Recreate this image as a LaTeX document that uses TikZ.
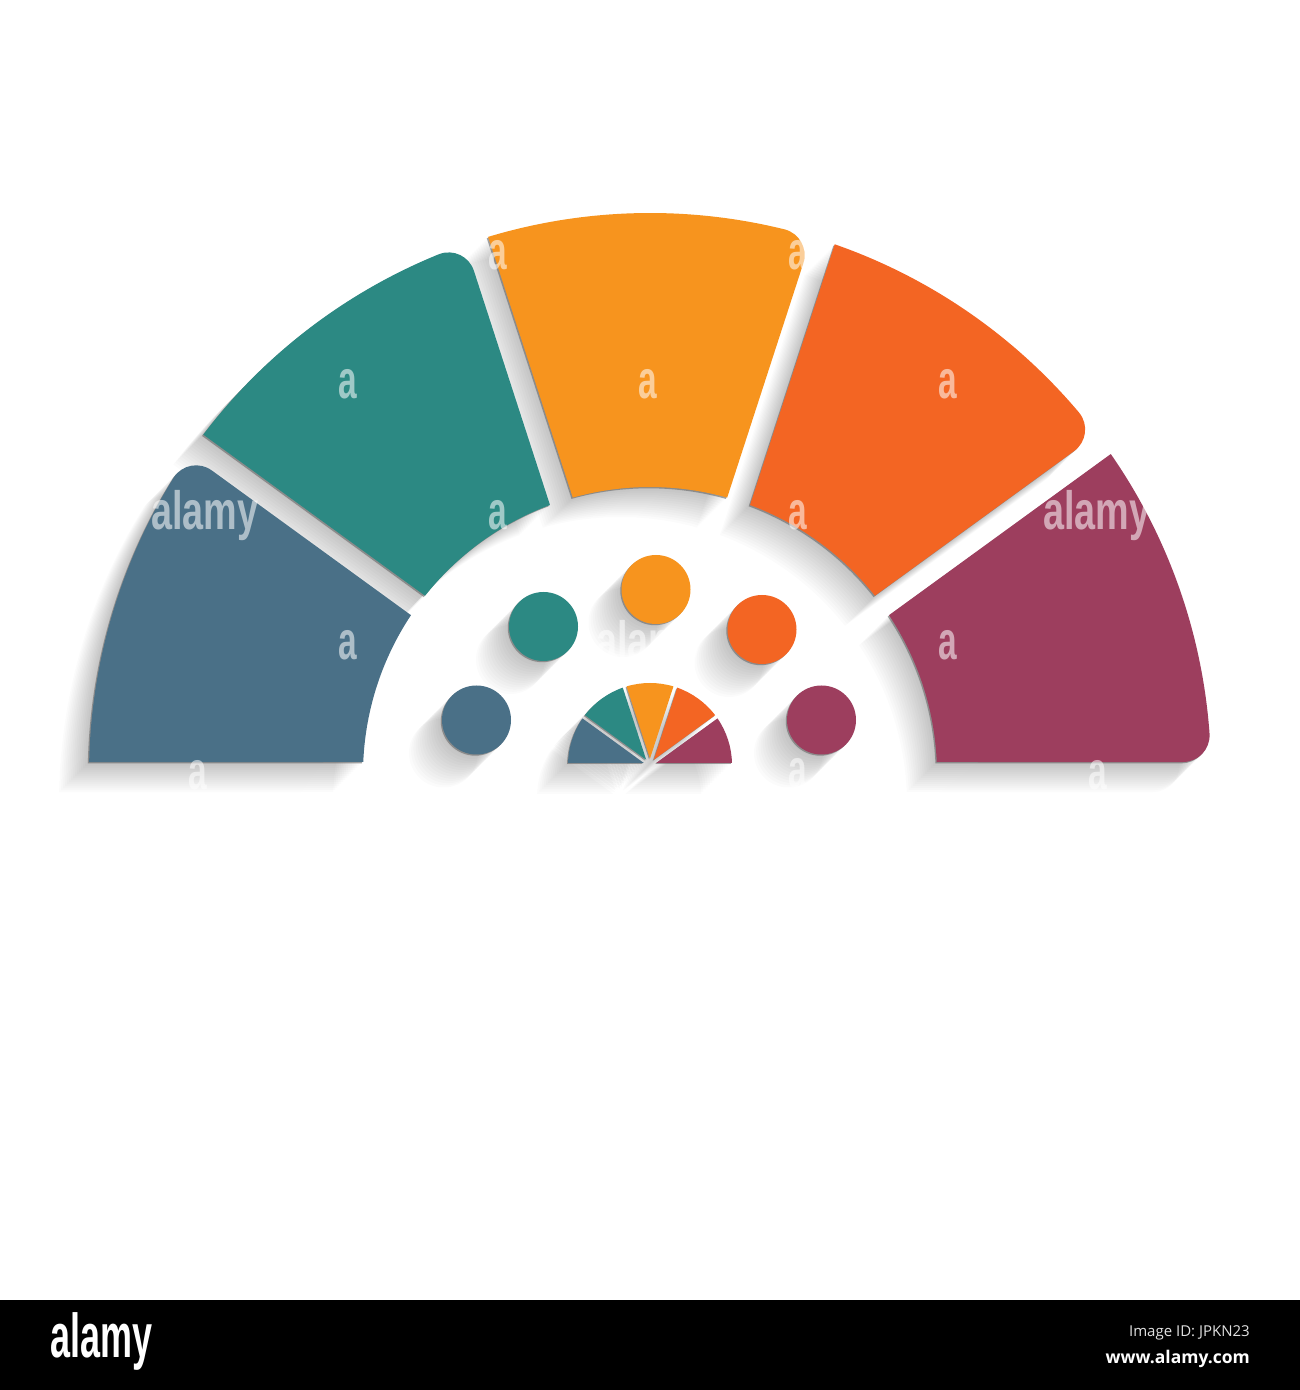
\documentclass[tikz,border=0pt]{standalone}
\usepackage{fontspec}
\setmainfont{Liberation Sans}
\newfontfamily\idfont{Open Sans}
\usetikzlibrary{calc}
\definecolor{cblue}{HTML}{4A7087}
\definecolor{cteal}{HTML}{2C8983}
\definecolor{corange}{HTML}{F7941E}
\definecolor{cdorange}{HTML}{F36523}
\definecolor{cpurple}{HTML}{9D3E5E}
\newcommand\Ro{561}
\newcommand\Ri{287}
\newcommand\hg{12}
\newcommand\rc{28}
\newcommand\fR{82}
\newcommand\fd{2}
% big ring segment: #1 low angle, #2 high angle, #3 path options
\newcommand\ringseg[3]{%
  \pgfmathsetmacro\sAo{#1+asin(\hg/\Ro)}%
  \pgfmathsetmacro\sBo{#2-asin(\hg/\Ro)}%
  \pgfmathsetmacro\sAi{#1+asin(\hg/\Ri)}%
  \pgfmathsetmacro\sBi{#2-asin(\hg/\Ri)}%
  \pgfmathsetmacro\sAr{\sAo+\rc/\Ro*180/pi}%
  \path[#3] (\sBi:\Ri) -- (\sBo:\Ro)
    arc[start angle=\sBo, end angle=\sAr, radius=\Ro pt]
    .. controls ($(\sAr:\Ro)!0.55!(\sAo:\Ro)$) and ($($(\sAo:\Ro)!\rc pt!(\sAi:\Ri)$)!0.55!(\sAo:\Ro)$)
    .. ($(\sAo:\Ro)!\rc pt!(\sAi:\Ri)$)
    -- (\sAi:\Ri) arc[start angle=\sAi, end angle=\sBi, radius=\Ri pt] -- cycle;}
% small fan segment
\newcommand\fanseg[3]{%
  \pgfmathsetmacro\fAo{#1+asin(\fd/\fR)}%
  \pgfmathsetmacro\fBo{#2-asin(\fd/\fR)}%
  \pgfmathsetmacro\fM{(#1+#2)/2}%
  \pgfmathsetmacro\fAp{\fd/sin((#2-#1)/2)}%
  \path[#3] (\fM:\fAp) -- (\fAo:\fR) arc[start angle=\fAo, end angle=\fBo, radius=\fR pt] -- cycle;}
\tikzset{
  shadowcopy/.style={fill=black, fill opacity=0.015},
  rimcopy/.style={fill=black!60, fill opacity=0.6},
  wm/.style={text=white, text opacity=0.55, anchor=base, inner sep=0pt,
    font=\bfseries\fontsize{54}{54}\selectfont},
  dot/.style={circle, inner sep=0pt, minimum size=69pt}
}
\begin{document}
\begin{tikzpicture}[x=1pt,y=1pt]
\useasboundingbox (0,0) rectangle (1300,1390);
\fill[white] (0,0) rectangle (1300,1390);
% ---------- big half ring ----------
\begin{scope}[shift={(650,616)}]
  \foreach \a/\c in {144/cblue,108/cteal,72/corange,36/cdorange,0/cpurple}{
    \foreach \k in {1,...,15}{
      \ringseg{\a}{\a+36}{shadowcopy, shift={(-2*\k,-2*\k)}}
    }
  }
  \foreach \a/\c in {144/cblue,108/cteal,72/corange,36/cdorange,0/cpurple}{
    \ringseg{\a}{\a+36}{rimcopy, shift={(-1.3,-1.3)}}
  }
  \foreach \a/\c in {144/cblue,108/cteal,72/corange,36/cdorange,0/cpurple}{
    \ringseg{\a}{\a+36}{fill=\c}
  }
\end{scope}
% ---------- small circles ----------
\foreach \n/\x/\y/\c in {cb/476.5/670/cblue, ct/543.5/763.5/cteal, co/656/800.5/corange,
                         cd/762/760.5/cdorange, cp/821.5/670/cpurple}{
  \foreach \k in {1,...,15}{
    \fill[shadowcopy] (\x-2.2*\k,\y-2.2*\k) circle (34.5);
  }
  \fill[rimcopy] (\x-1.2,\y-1.2) circle (34.5);
  \node[dot, fill=\c] (\n) at (\x,\y) {};
}
% ---------- small fan ----------
\begin{scope}[shift={(650,625)}]
  \foreach \a/\c in {144/cblue,108/cteal,72/corange,36/cdorange,0/cpurple}{
    \foreach \k in {1,...,14}{
      \fanseg{\a}{\a+36}{shadowcopy, shift={(-2.2*\k,-2.2*\k)}}
    }
  }
  \foreach \a/\c in {144/cblue,108/cteal,72/corange,36/cdorange,0/cpurple}{
    \fanseg{\a}{\a+36}{rimcopy, shift={(-1,-1)}}
  }
  \foreach \a/\c in {144/cblue,108/cteal,72/corange,36/cdorange,0/cpurple}{
    \fanseg{\a}{\a+36}{fill=\c}
  }
\end{scope}
% ---------- watermarks ----------
\foreach \n/\x/\y in {w1/498/1120, w2/798/1120, w3/348/991, w4/648/991, w5/948/991,
                      w6/498/860, w7/798/860, w8/348/730, w9/948/730,
                      w10/198/600, w11/798/602, w12/1098/600}{
  \node[wm] (\n) at (\x,\y) {\scalebox{0.62}[1]{a}};
}
\node[wm] (wa1) at (205,860) {\scalebox{0.7}[1]{alamy}};
\node[wm] (wa2) at (1097,860) {\scalebox{0.7}[1]{alamy}};
\node[wm] (wa3) at (650,730) {\scalebox{0.7}[1]{alamy}};
% ---------- bottom bar ----------
\fill[black] (0,0) rectangle (1300,90);
\node[anchor=base west, inner sep=0pt, text=white, font=\bfseries\fontsize{62}{62}\selectfont]
  (logo) at (50,32) {\scalebox{0.58}[1]{alamy}};
\node[anchor=base east, inner sep=0pt, text=black!12, font=\idfont\fontsize{15}{15}\selectfont]
  (imgid) at (1250,53) {Image ID: JPKN23};
\node[anchor=base east, inner sep=0pt, text=white, font=\idfont\bfseries\fontsize{17.5}{17.5}\selectfont]
  (url) at (1250,27) {www.alamy.com};
\end{tikzpicture}
\end{document}
